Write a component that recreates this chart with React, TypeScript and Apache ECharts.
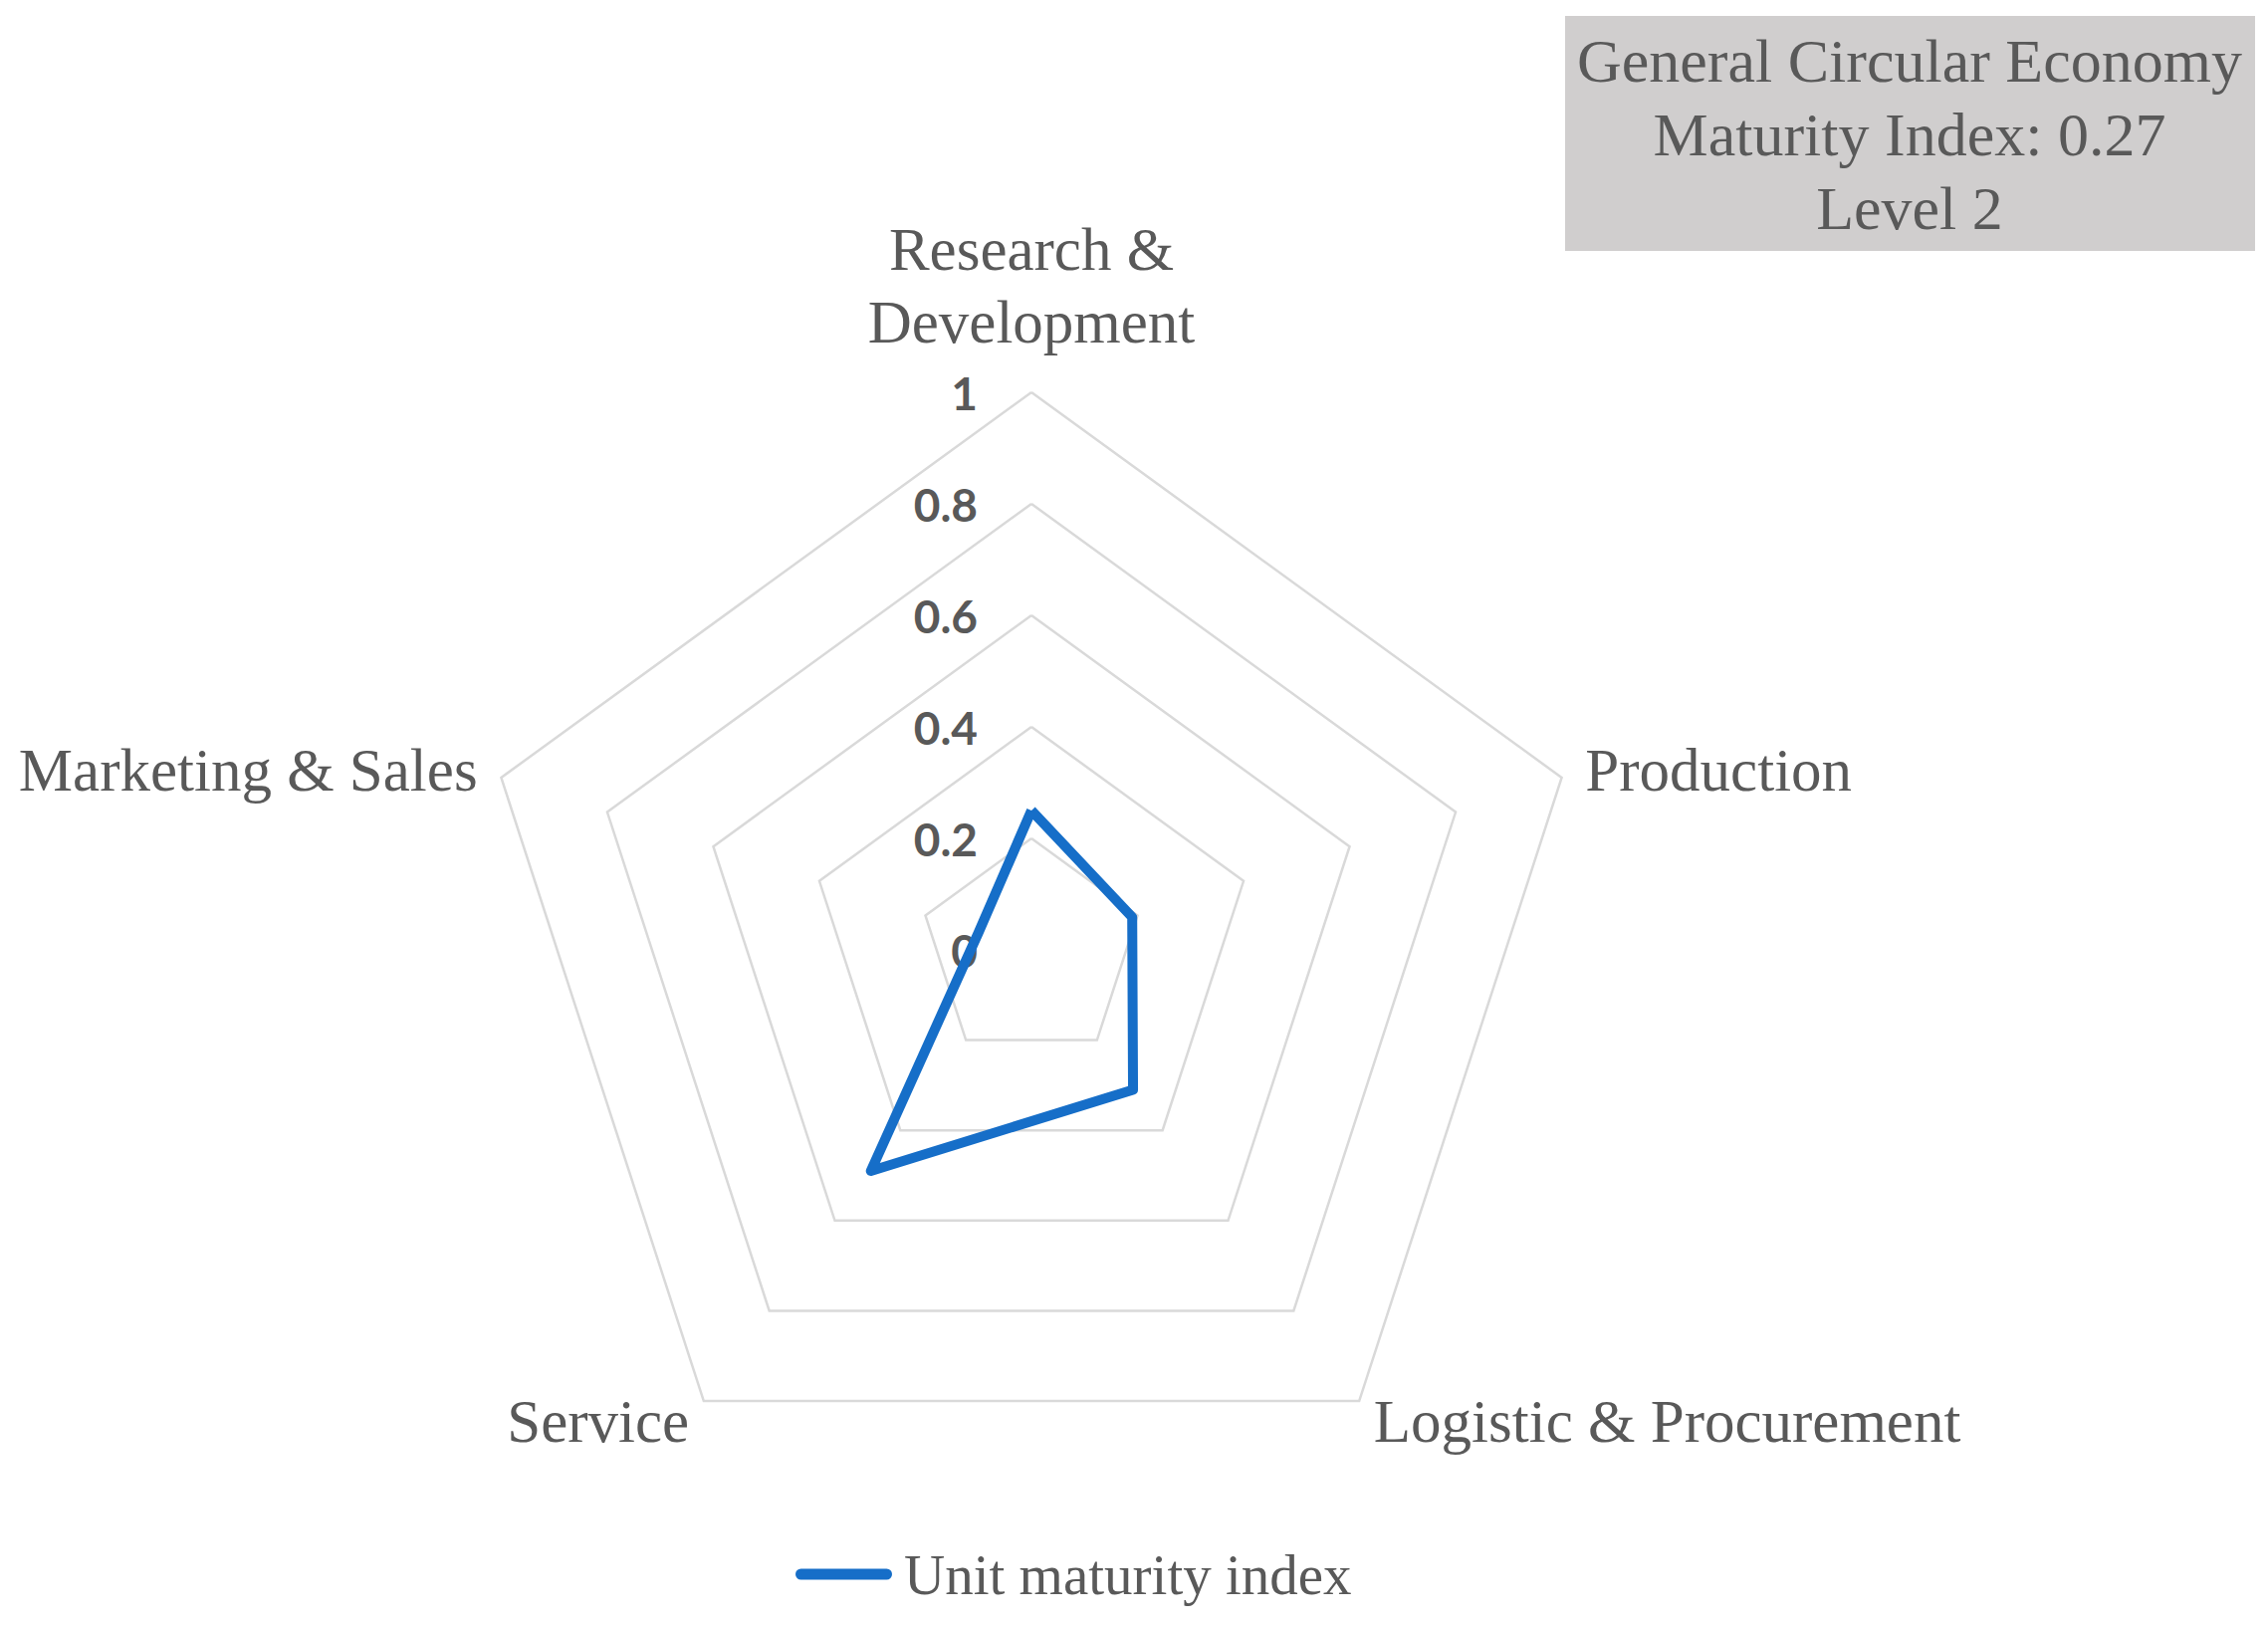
import React, { useEffect, useRef } from 'react';
import * as echarts from 'echarts';

// Indicators in ECharts order (starts at top, goes counter-clockwise)
const indicatorNames = [
  'Research &\nDevelopment',
  'Marketing & Sales',
  'Service',
  'Logistic & Procurement',
  'Production',
];
const unitMaturityValues = [0.25, 0.1, 0.49, 0.31, 0.19];
const axisMin = 0;
const axisMax = 1;
const seriesName = 'Unit maturity index';
const summaryLines = ['General Circular Economy', 'Maturity Index: 0.27', 'Level 2'];

const TEXT_GRAY = '#595959';
const LINE_BLUE = '#166EC8';
const SERIF = '"Liberation Serif", "Times New Roman", serif';

export default function App() {
  const ref = useRef<HTMLDivElement>(null);

  useEffect(() => {
    if (!ref.current) return;
    const chart = echarts.init(ref.current, undefined, { renderer: 'svg' });
    const option: any = {
      animation: false,
      backgroundColor: '#ffffff',
      color: [LINE_BLUE],
      legend: {
        left: 799,
        top: 1550,
        padding: 0,
        itemWidth: 97,
        itemHeight: 11,
        icon: 'path://M5.5,0 L91.5,0 A5.5,5.5 0 0 1 91.5,11 L5.5,11 A5.5,5.5 0 0 1 5.5,0 Z',
        itemStyle: { color: LINE_BLUE },
        textStyle: {
          color: TEXT_GRAY,
          fontFamily: SERIF,
          fontSize: 57,
          lineHeight: 62,
          padding: [0, 0, 0, 7],
        },
        data: [seriesName],
      },
      radar: {
        center: [1036, 954],
        radius: 560,
        startAngle: 90,
        splitNumber: 5,
        shape: 'polygon',
        nameGap: 25,
        axisName: {
          color: TEXT_GRAY,
          fontFamily: SERIF,
          fontSize: 61,
          lineHeight: 73,
          padding: [0, 0, 9, 0],
        },
        indicator: indicatorNames.map((name, i) => ({
          name,
          min: axisMin,
          max: axisMax,
          ...(i === 0
            ? {
                axisLabel: {
                  show: true,
                  color: TEXT_GRAY,
                  fontFamily: 'Lato, "Open Sans", sans-serif',
                  fontWeight: 'bold',
                  fontSize: 46,
                  margin: 54,
                  formatter: (v: number) => String(Math.round(v * 10) / 10),
                },
              }
            : {}),
        })),
        splitLine: { lineStyle: { color: '#d9d9d9', width: 2.5 } },
        splitArea: { show: false },
        axisLine: { show: false },
        axisTick: { show: false },
        axisLabel: { show: false },
      },
      graphic: [
        {
          type: 'rect',
          shape: { x: 1572, y: 16, width: 693, height: 236 },
          style: { fill: '#D0CECE' },
          silent: true,
        },
        {
          type: 'text',
          x: 1918,
          y: 135,
          silent: true,
          style: {
            text: summaryLines.join('\n'),
            fill: TEXT_GRAY,
            fontFamily: SERIF,
            fontSize: 62,
            lineHeight: 74,
            align: 'center',
            verticalAlign: 'middle',
            textAlign: 'center',
            textVerticalAlign: 'middle',
          },
        },
      ],
      series: [
        {
          type: 'radar',
          name: seriesName,
          symbol: 'none',
          lineStyle: { color: LINE_BLUE, width: 10 },
          itemStyle: { color: LINE_BLUE },
          data: [{ name: seriesName, value: unitMaturityValues }],
        },
      ],
    };
    chart.setOption(option);
    return () => chart.dispose();
  }, []);

  return (
    <div
      ref={ref}
      style={{ position: 'fixed', left: 0, top: 0, width: 2278, height: 1633, background: '#fff' }}
    />
  );
}
